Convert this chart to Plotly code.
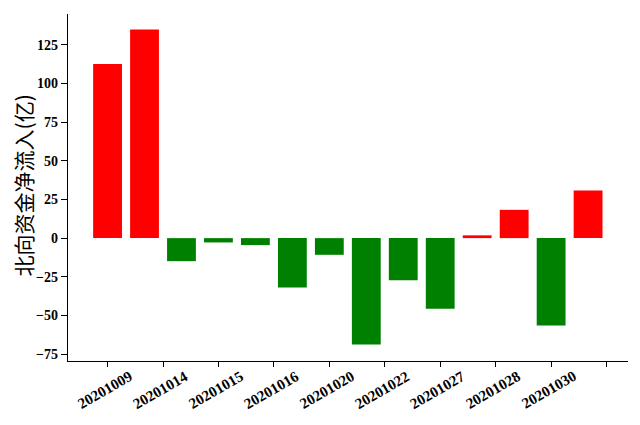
import plotly.graph_objects as go

values = [112.7, 135.0, -14.9, -2.8, -4.5, -31.9, -10.8, -68.8, -27.2, -45.7, 1.8, 18.3, -56.5, 30.8]
tick_labels = ["20201009", "20201014", "20201015", "20201016", "20201020",
               "20201022", "20201027", "20201028", "20201030"]
y_title = "北向资金净流入(亿)"

x = list(range(len(values)))
colors = ["#ff0000" if v >= 0 else "#008000" for v in values]
tick_pos = [i * 1.5 for i in range(len(tick_labels) + 1)]

fig = go.Figure(go.Bar(x=x, y=values, marker_color=colors, marker_line_width=0, width=0.78))

annotations = []
for p, t in zip(tick_pos, tick_labels):
    annotations.append(dict(x=p - 0.07, y=-0.083, xref="x", yref="paper", text=t, showarrow=False,
                            textangle=-30, xanchor="center", yanchor="middle",
                            font=dict(family="Liberation Serif", size=15, color="black", weight="bold")))
annotations.append(dict(x=-0.081, y=0.505, xref="paper", yref="paper", text=y_title, showarrow=False,
                        textangle=-90, xanchor="center", yanchor="middle",
                        font=dict(family="Noto Sans CJK SC", size=21, color="black", weight=400)))

fig.update_layout(
    width=632, height=417,
    margin=dict(l=60, r=12, t=6, b=64),
    plot_bgcolor="white", paper_bgcolor="white",
    showlegend=False,
    annotations=annotations,
    xaxis=dict(range=[-1.07, 14.08], tickvals=tick_pos, ticktext=[""] * len(tick_pos),
               automargin=False,
               showgrid=False, zeroline=False, showline=True, linecolor="black", linewidth=1.2,
               ticks="outside", ticklen=5, tickcolor="black"),
    yaxis=dict(range=[-79.5, 145], tickvals=[-75, -50, -25, 0, 25, 50, 75, 100, 125],
               automargin=False,
               showgrid=False, zeroline=False, showline=True, linecolor="black", linewidth=1.2,
               ticks="outside", ticklen=6, tickcolor="black",
               tickfont=dict(family="Liberation Serif", size=14, color="black", weight="bold")),
)

fig.write_html("out.html")
